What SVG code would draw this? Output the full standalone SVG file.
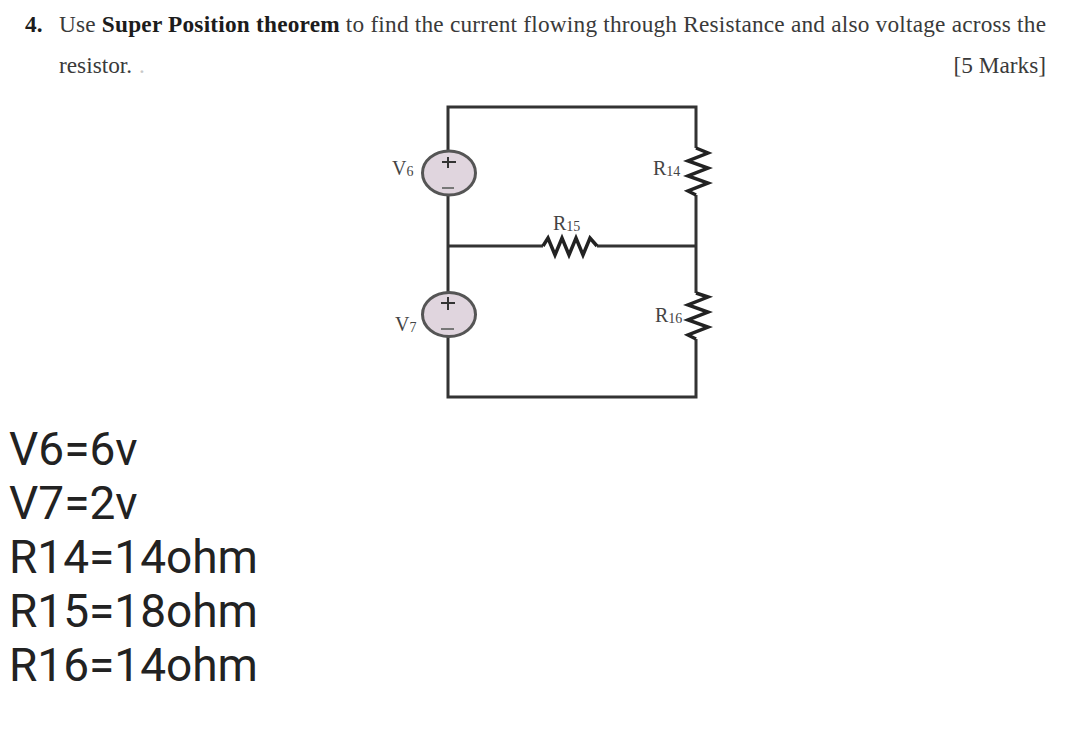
<svg xmlns="http://www.w3.org/2000/svg" width="1068" height="738" viewBox="0 0 1068 738">
<style>
.q{font-family:"Liberation Serif","Times New Roman",serif;font-size:23.300px;fill:#3a3a3a}
.b{font-weight:bold;fill:#1c1c1c}
.l{font-family:"Liberation Serif",serif;font-size:20px;fill:#444}
.s{font-size:14px}
.w{fill:none;stroke:#333;stroke-width:3;stroke-linejoin:miter}
.r{fill:none;stroke:#222;stroke-width:3.500;stroke-linejoin:miter}
.src{fill:#e0d5de;stroke:#555;stroke-width:3}
.p{fill:none;stroke:#333;stroke-width:2}
.m{fill:none;stroke:#777;stroke-width:2}
.a{font-family:Roboto,sans-serif;font-size:46px;fill:#222}
</style>
<rect width="1068" height="738" fill="#fff"/>
<g id="question">
<text class="q b" x="25" y="32">4.</text>
<text class="q" x="59" y="32" textLength="987" lengthAdjust="spacing">Use <tspan class="b">Super Position theorem</tspan> to find the current flowing through Resistance and also voltage across the</text>
<text class="q" x="59" y="73">resistor.<tspan x="139" fill="#c8c8c8">.</tspan></text>
<text class="q" x="1046" y="73" text-anchor="end">[5 Marks]</text>
</g>
<g id="connectors">
<path class="w" d="M448 151V107H696V148"/>
<path class="w" d="M448 195V292"/>
<path class="w" d="M448 337V397H696V339"/>
<path class="w" d="M696 195V293"/>
<path class="w" d="M448 246H543"/>
<path class="w" d="M597 246H696"/>
</g>
<g id="V6">
<ellipse class="src" cx="449" cy="173" rx="26.500" ry="22"/>
<path class="p" d="M442 162H456M448 157V168"/>
<path class="m" d="M442 188H454"/>
<text class="l" x="392" y="175">V<tspan class="s" dy="1">6</tspan></text>
</g>
<g id="V7">
<ellipse class="src" cx="449" cy="314.500" rx="26.500" ry="22"/>
<path class="p" d="M441 303H455M448 297V310"/>
<path class="m" d="M441 329H454"/>
<text class="l" x="395" y="331">V<tspan class="s" dy="1">7</tspan></text>
</g>
<g id="R14">
<path class="r" d="M696 148L708 153L688 161L708 168L688 176L708 183L688 191L696 195"/>
<text class="l" x="653" y="175">R<tspan class="s" dy="1">14</tspan></text>
</g>
<g id="R15">
<path class="r" d="M543 246L548 238L555 255L562 238L569 255L576 238L583 255L590 238L597 246"/>
<text class="l" x="553" y="230">R<tspan class="s" dy="1">15</tspan></text>
</g>
<g id="R16">
<path class="r" d="M696 293L708 297L688 305L708 312L688 320L708 327L688 335L696 339"/>
<text class="l" x="655" y="322">R<tspan class="s" dy="1">16</tspan></text>
</g>
<g id="values">
<text class="a" x="9" y="465">V6=6v</text>
<text class="a" x="9" y="519">V7=2v</text>
<text class="a" x="9" y="573">R14=14ohm</text>
<text class="a" x="9" y="627">R15=18ohm</text>
<text class="a" x="9" y="681">R16=14ohm</text>
</g>
</svg>
